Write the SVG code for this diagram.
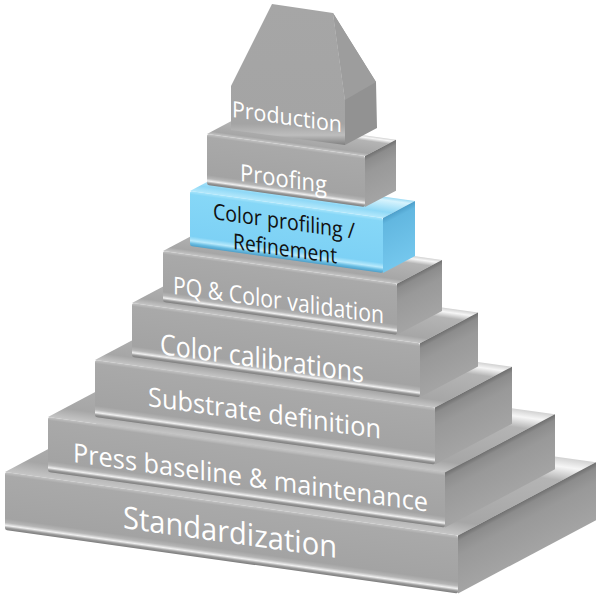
<svg xmlns="http://www.w3.org/2000/svg" width="606" height="603" viewBox="0 0 606 603">
<defs>
<linearGradient id="gFront" x1="0" y1="0" x2="0" y2="1">
<stop offset="0" stop-color="#c2c2c2"/><stop offset="0.06" stop-color="#a9a9a9"/><stop offset="0.8" stop-color="#a3a3a3"/><stop offset="0.87" stop-color="#b6b6b6"/><stop offset="0.92" stop-color="#f0f0f0"/><stop offset="0.96" stop-color="#9a9a9a"/><stop offset="1" stop-color="#7c7c7c"/>
</linearGradient>
<linearGradient id="gSide" x1="0" y1="0" x2="0" y2="1">
<stop offset="0" stop-color="#6f6f6f"/><stop offset="0.1" stop-color="#8c8c8c"/><stop offset="0.35" stop-color="#999999"/><stop offset="1" stop-color="#a4a4a4"/>
</linearGradient>
<linearGradient id="gTop" x1="0" y1="0" x2="0" y2="1">
<stop offset="0" stop-color="#c6c6c6"/><stop offset="0.15" stop-color="#a6a6a6"/><stop offset="0.75" stop-color="#b4b4b4"/><stop offset="0.9" stop-color="#f6f6f6"/><stop offset="1" stop-color="#d2d2d2"/>
</linearGradient>
<linearGradient id="bFront" x1="0" y1="0" x2="0" y2="1">
<stop offset="0" stop-color="#a8e5fb"/><stop offset="0.06" stop-color="#86d7f7"/><stop offset="0.82" stop-color="#7dd1f5"/><stop offset="0.9" stop-color="#b9eafc"/><stop offset="0.95" stop-color="#69bde3"/><stop offset="1" stop-color="#4e9fc8"/>
</linearGradient>
<linearGradient id="bSide" x1="0" y1="0" x2="0" y2="1">
<stop offset="0" stop-color="#4d9fca"/><stop offset="0.12" stop-color="#62b7e0"/><stop offset="1" stop-color="#74c7ed"/>
</linearGradient>
<linearGradient id="bTop" x1="0" y1="0" x2="0" y2="1">
<stop offset="0" stop-color="#b5e9fc"/><stop offset="0.3" stop-color="#8fd8f6"/><stop offset="0.85" stop-color="#d6f3fd"/><stop offset="1" stop-color="#9fdcf5"/>
</linearGradient>
<linearGradient id="pFront" x1="0" y1="0" x2="0" y2="1">
<stop offset="0" stop-color="#a6a6a6"/><stop offset="0.85" stop-color="#a4a4a4"/><stop offset="0.93" stop-color="#bdbdbd"/><stop offset="0.97" stop-color="#9a9a9a"/><stop offset="1" stop-color="#808080"/>
</linearGradient>
<style>
.front{fill:url(#gFront)}
.side{fill:url(#gSide)}
.top{fill:url(#gTop)}
.bfront{fill:url(#bFront)}
.bside{fill:url(#bSide)}
.btop{fill:url(#bTop)}
.lbl{font-family:"Open Sans","Noto Sans","Liberation Sans",sans-serif;fill:#ffffff}
.lblk{font-family:"Open Sans","Noto Sans","Liberation Sans",sans-serif;fill:#111111}
</style>
</defs>
<rect width="606" height="603" fill="#ffffff"/>
<g id="connectors"/>

<g id="standardization">
<rect class="top" width="1" height="1" transform="matrix(453 63.42 138 -73.14 5 472)"/>
<rect class="side" width="138" height="58" transform="matrix(1 -0.53 0 1 458 535.4)"/>
<rect class="front" width="453" height="58" rx="2" transform="matrix(1 0.14 0 1 5 472)"/>
<text class="lbl" font-size="31" textLength="214" lengthAdjust="spacingAndGlyphs" transform="matrix(1 0.14 0 1 123 528)">Standardization</text>
</g>

<g id="press-baseline">
<rect class="top" width="1" height="1" transform="matrix(397 55.58 110 -58.3 48 417)"/>
<rect class="side" width="110" height="55" transform="matrix(1 -0.53 0 1 445 472.6)"/>
<rect class="front" width="397" height="55" rx="2" transform="matrix(1 0.14 0 1 48 417)"/>
<text class="lbl" font-size="26.5" textLength="355" lengthAdjust="spacingAndGlyphs" transform="matrix(1 0.14 0 1 73 462)">Press baseline &amp; maintenance</text>
</g>

<g id="substrate-definition">
<rect class="top" width="1" height="1" transform="matrix(340 47.6 77 -40.81 95 360)"/>
<rect class="side" width="77" height="57" transform="matrix(1 -0.53 0 1 435 407.6)"/>
<rect class="front" width="340" height="57" rx="2" transform="matrix(1 0.14 0 1 95 360)"/>
<text class="lbl" font-size="26.5" textLength="233" lengthAdjust="spacingAndGlyphs" transform="matrix(1 0.14 0 1 148 406)">Substrate definition</text>
</g>

<g id="color-calibrations">
<rect class="top" width="1" height="1" transform="matrix(288 40.32 58 -30.74 132 303)"/>
<rect class="side" width="58" height="54" transform="matrix(1 -0.53 0 1 420 343.3)"/>
<rect class="front" width="288" height="54" rx="2" transform="matrix(1 0.14 0 1 132 303)"/>
<text class="lbl" font-size="28.5" textLength="204" lengthAdjust="spacingAndGlyphs" transform="matrix(1 0.14 0 1 160 354)">Color calibrations</text>
</g>

<g id="pq-color-validation">
<rect class="top" width="1" height="1" transform="matrix(234 32.76 45 -23.85 163 251)"/>
<rect class="side" width="45" height="51" transform="matrix(1 -0.53 0 1 397 283.8)"/>
<rect class="front" width="234" height="51" rx="2" transform="matrix(1 0.14 0 1 163 251)"/>
<text class="lbl" font-size="24.5" textLength="211" lengthAdjust="spacingAndGlyphs" transform="matrix(1 0.14 0 1 173 294)">PQ &amp; Color validation</text>
</g>

<g id="color-profiling">
<rect class="btop" width="1" height="1" transform="matrix(193 27.02 32 -16.96 190 191)"/>
<rect class="bside" width="32" height="55" transform="matrix(1 -0.53 0 1 383 218)"/>
<rect class="bfront" width="193" height="55" rx="2" transform="matrix(1 0.14 0 1 190 191)"/>
<text class="lblk" font-size="22" textLength="142" lengthAdjust="spacingAndGlyphs" transform="matrix(1 0.14 0 1 213 219)">Color profiling /</text>
<text class="lblk" font-size="22" textLength="104" lengthAdjust="spacingAndGlyphs" transform="matrix(1 0.14 0 1 233 249)">Refinement</text>
</g>

<g id="proofing">
<rect class="top" width="1" height="1" transform="matrix(158 22.12 31 -16.43 207 134)"/>
<rect class="side" width="31" height="51" transform="matrix(1 -0.53 0 1 365 156.1)"/>
<rect class="front" width="158" height="51" rx="2" transform="matrix(1 0.14 0 1 207 134)"/>
<text class="lbl" font-size="24" textLength="87" lengthAdjust="spacingAndGlyphs" transform="matrix(1 0.14 0 1 240 181)">Proofing</text>
</g>

<g id="production">
<polygon points="333,13 376,82 377,128 345,145 345,100" fill="#929292"/>
<polygon points="333,13 376,82 345,100" fill="#9d9d9d"/>
<polygon points="231,130 231,86 272,4 333,13 345,100 345,145" fill="url(#pFront)"/>
<text class="lbl" font-size="22.5" textLength="110" lengthAdjust="spacingAndGlyphs" transform="matrix(1 0.14 0 1 232 117)">Production</text>
</g>
</svg>
